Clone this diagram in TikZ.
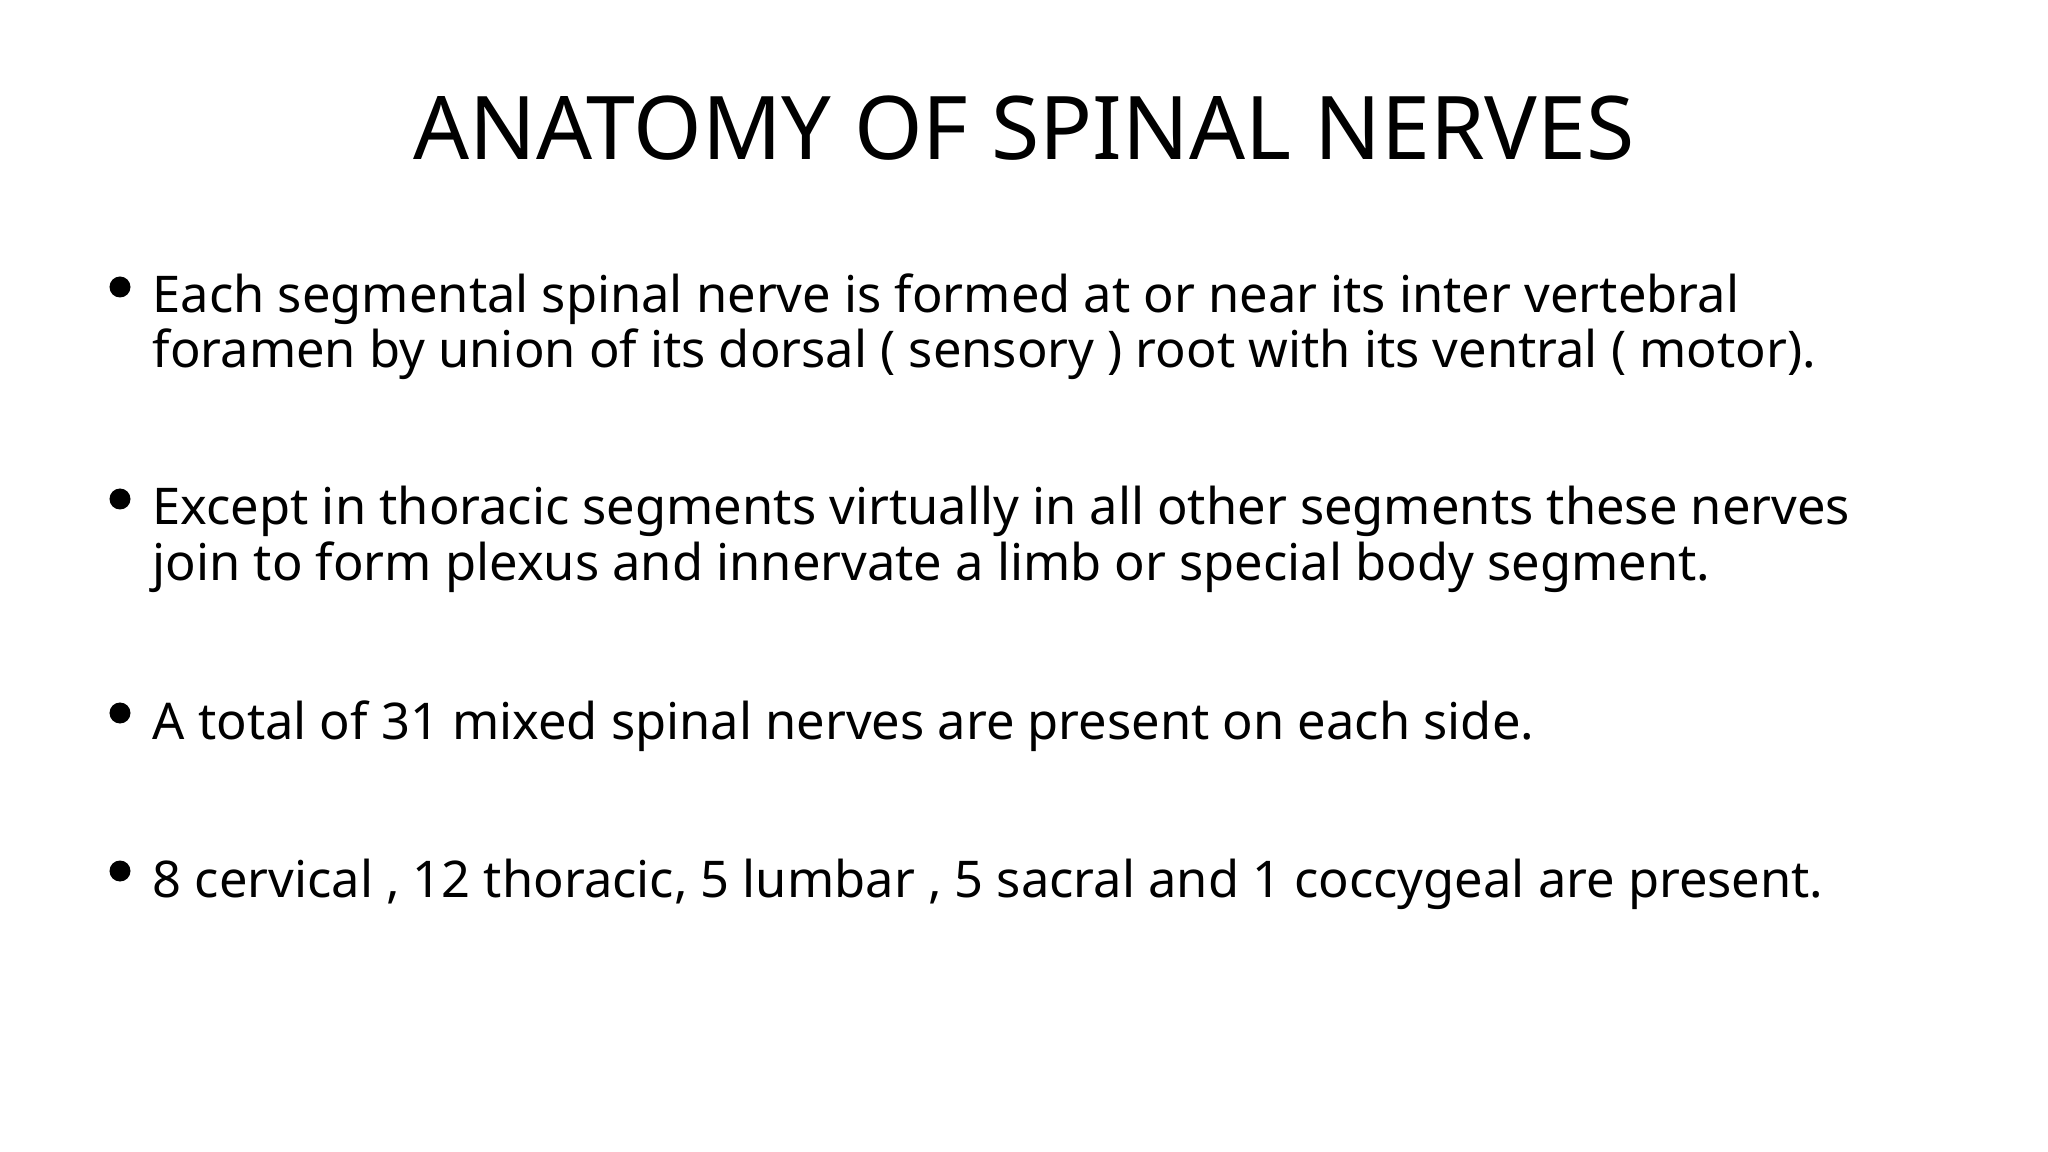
\documentclass[tikz,border=0pt]{standalone}
\usepackage{fontspec}
\setmainfont{Noto Sans}
\usetikzlibrary{positioning}
\begin{document}
\begin{tikzpicture}
        \tikzstyle{line} = [anchor=base west, inner sep=0pt, font=\fontsize{14.4}{16}\selectfont]
        \tikzstyle{dot} = [circle, fill=black, inner sep=0pt, minimum size=0.21cm]
        \useasboundingbox (0,0) rectangle (20.48,-11.52);
		\node [anchor=base, inner sep=0pt, font=\fontsize{25}{27}\selectfont] (title) at (10.24, -1.6) {ANATOMY OF SPINAL NERVES};
		\node [line] (a1) at (1.52, -3.13) {Each segmental spinal nerve is formed at or near its inter vertebral};
		\node [line] (a2) at (1.52, -3.68) {foramen by union of its dorsal ( sensory ) root with its ventral ( motor).};
		\node [line] (b1) at (1.52, -5.25) {Except in thoracic segments virtually in all other segments these nerves};
		\node [line] (b2) at (1.52, -5.80) {join to form plexus and innervate a limb or special body segment.};
		\node [line] (c1) at (1.52, -7.39) {A total of 31 mixed spinal nerves are present on each side.};
		\node [line] (d1) at (1.52, -8.97) {8 cervical , 12 thoracic, 5 lumbar , 5 sacral and 1 coccygeal are present.};
		\node [dot] (p1) at (1.20, -2.87) {};
		\node [dot] (p2) at (1.20, -4.99) {};
		\node [dot] (p3) at (1.20, -7.13) {};
		\node [dot] (p4) at (1.20, -8.71) {};
    \end{tikzpicture}
\end{document}
